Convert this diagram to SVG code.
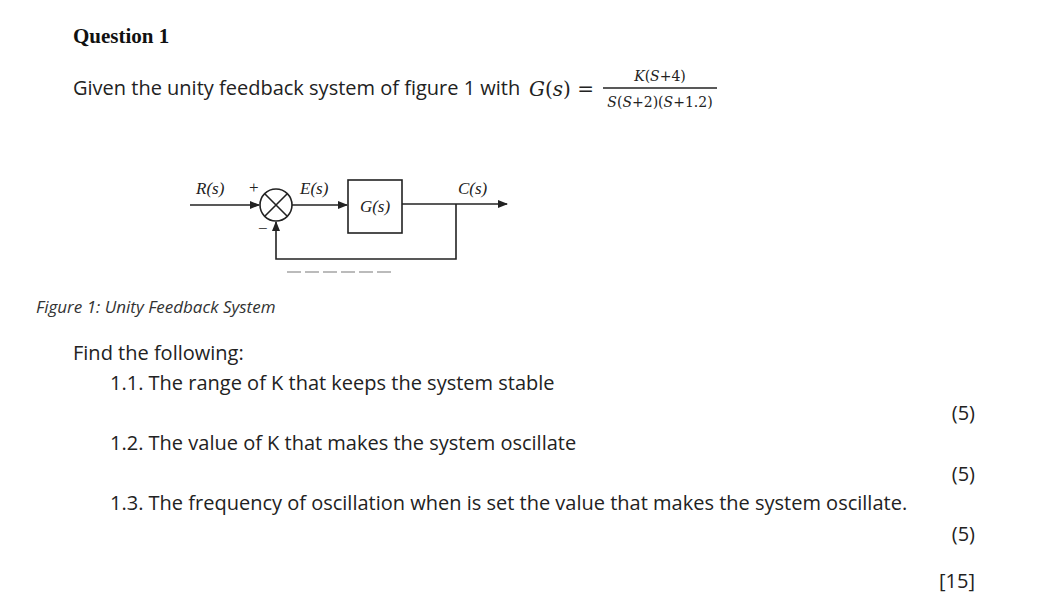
<svg xmlns="http://www.w3.org/2000/svg" width="1039" height="610" viewBox="0 0 1039 610">
<style>
.t{font-family:"Open Sans","Noto Sans",sans-serif;font-size:20px;fill:#222}
.m{font-family:"Liberation Serif",serif;font-style:italic;fill:#222}
.ln{stroke:#222;stroke-width:1.6;fill:none}
</style>
<defs><marker id="a" markerWidth="10" markerHeight="8" refX="9" refY="4" orient="auto" markerUnits="userSpaceOnUse"><path d="M0,0L10,4L0,8z" fill="#222"/></marker></defs>
<rect width="1039" height="610" fill="#fff"/>
<text x="73" y="43" font-family="Liberation Serif,serif" font-weight="bold" font-size="21" fill="#111">Question 1</text>
<text x="73" y="95" class="t">Given the unity feedback system of figure 1 with</text>
<text x="529" y="96" font-family="DejaVu Serif,serif" font-size="20" fill="#222"><tspan font-style="italic">G</tspan>(<tspan font-style="italic">s</tspan>) =</text>
<text x="660" y="81" text-anchor="middle" font-family="DejaVu Serif,serif" font-size="14" fill="#222"><tspan font-style="italic">K</tspan>(<tspan font-style="italic">S</tspan>+4)</text>
<line x1="603" y1="88" x2="717" y2="88" stroke="#222" stroke-width="1.3"/>
<text x="660" y="107" text-anchor="middle" font-family="DejaVu Serif,serif" font-size="14" fill="#222"><tspan font-style="italic">S</tspan>(<tspan font-style="italic">S</tspan>+2)(<tspan font-style="italic">S</tspan>+1.2)</text>
<g id="sum"><circle cx="276" cy="205" r="16" class="ln"/><path d="M265,194L287,216M287,194L265,216" class="ln"/></g>
<g id="G"><rect x="348" y="180" width="54" height="53" class="ln"/><text x="375" y="212" text-anchor="middle" class="m" font-size="17">G(s)</text></g>
<g id="connectors">
<path d="M190,205H259" class="ln" marker-end="url(#a)"/>
<path d="M292,205H347" class="ln" marker-end="url(#a)"/>
<path d="M402,204H507" class="ln" marker-end="url(#a)"/>
<path d="M456,204V259H276V222" class="ln" marker-end="url(#a)"/>
</g>
<g id="labels" class="m" font-size="17">
<text x="196" y="194">R(s)</text><text x="249" y="193" font-style="normal">+</text><text x="258" y="234" font-style="normal">−</text>
<text x="300" y="194">E(s)</text><text x="458" y="194">C(s)</text>
</g>
<path d="M287,272H395" stroke="#bbb" stroke-width="2" stroke-dasharray="14,4"/>
<text x="36" y="313" font-family="Open Sans,sans-serif" font-style="italic" font-size="17" fill="#333">Figure 1: Unity Feedback System</text>
<text x="73" y="360" class="t">Find the following:</text>
<text x="110" y="390" class="t">1.1. The range of K that keeps the system stable</text>
<text x="110" y="450" class="t">1.2. The value of K that makes the system oscillate</text>
<text x="110" y="510" class="t">1.3. The frequency of oscillation when is set the value that makes the system oscillate.</text>
<text x="975" y="420" text-anchor="end" class="t">(5)</text>
<text x="975" y="481" text-anchor="end" class="t">(5)</text>
<text x="975" y="541" text-anchor="end" class="t">(5)</text>
<text x="975" y="588" text-anchor="end" class="t">[15]</text>
</svg>
